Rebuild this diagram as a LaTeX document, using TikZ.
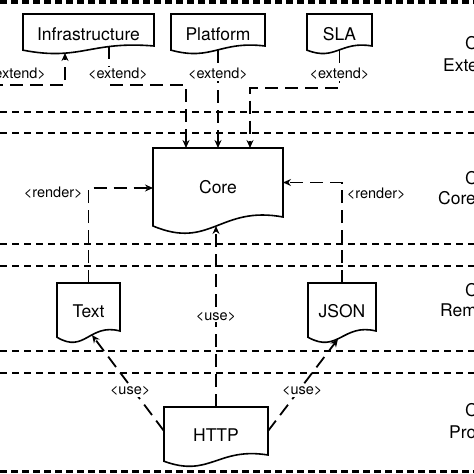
\documentclass[tikz,border=0pt]{standalone}
\usepackage{fontspec}
\setmainfont{TeX Gyre Heros}
\usepackage{tikz}
\usetikzlibrary{arrows.meta,shapes,positioning,calc}

% document outline with a wavy bottom edge
\newcommand{\moduleoutline}[1]{%
  \draw[line width=1.6pt] let \p1=(#1.south west), \p2=(#1.north east), \n1={\y2-\y1}, \n2={\x2-\x1} in
    (\x2,\y1) -- (\x2,\y2) -- (\x1,\y2) -- (\x1,\y1-0.13*\n1)
    .. controls (\x1+0.44*\n2,\y1-0.48*\n1) and (\x2-0.485*\n2,\y1+0.17*\n1) .. (\x2,\y1) -- cycle;}

\begin{document}
\begin{tikzpicture}[x=1pt, y=-1pt]
\tikzstyle{module}=[shape=rectangle, inner sep=0pt, outer sep=0pt, text height=21pt, text depth=0pt, font=\fontsize{17.5pt}{21pt}\selectfont]
\tikzstyle{layertext}=[anchor=west, inner sep=0pt, font=\fontsize{17.5pt}{21pt}\selectfont]
\tikzstyle{lbl}=[fill=white, inner sep=1pt, font=\fontsize{14.5pt}{16pt}\selectfont]
\tikzstyle{conn}=[line width=1.8pt, dash pattern=on 13pt off 7pt, -{Stealth[length=8pt, width=7pt]}]
\tikzstyle{layer}=[line width=1.3pt, dash pattern=on 7pt off 5pt]
\tikzstyle{border}=[line width=3.5pt, dash pattern=on 7pt off 4pt]
\useasboundingbox (0,0) rectangle (474,474);

\draw[border] (0,2) -- (474,2);
\draw[border] (0,471.5) -- (474,471.5);
\foreach \h in {112,133,244,266,351,373} \draw[layer] (0,\h) -- (474,\h);

\node[module, minimum width=94pt, minimum height=32pt] (1) at (218,30) {Platform};
\node[module, minimum width=131pt, minimum height=32pt] (0) [left=17pt of 1] {Infrastructure};
\node[module, minimum width=65pt, minimum height=32pt] (2) [right=42pt of 1] {SLA};
\node[module, minimum width=130pt, minimum height=69pt] (3) [below=102pt of 1] {Core};
\node[module, minimum width=63pt, minimum height=48pt] (4) [below left=66pt and 33pt of 3] {Text};
\node[module, minimum width=68pt, minimum height=48pt] (5) [below right=66pt and 25pt of 3] {JSON};
\node[module, minimum width=104pt, minimum height=48pt] (6) [below=190pt of 3, xshift=-2pt] {HTTP};
\foreach \k in {0,...,6} \moduleoutline{\k};

\node[layertext] (7) at (465,43) {C};
\node[layertext] (8) at (443,65) {Exte};
\node[layertext] (9) at (465,178) {C};
\node[layertext] (10) at (438,198) {Core};
\node[layertext] (11) at (465,290) {C};
\node[layertext] (12) at (440,310) {Rem};
\node[layertext] (13) at (465,410) {C};
\node[layertext] (14) at (449,432) {Pro};

\coordinate (x) at (-10,85);
\draw[conn] (x) -| node[lbl, pos=0.173, yshift=11pt] {<extend>} ([xshift=-23.5pt,yshift=-7pt]0.south);
\draw[conn] ([xshift=20.5pt]0.south) -- node[lbl, pos=.7, xshift=9pt] {<extend>} ++(0,39) -| ([xshift=-32pt]3.north);
\draw[conn] ([yshift=-4pt]1.south) -- node[lbl, pos=.245] {<extend>} (3.north);
\draw[conn] ([yshift=-4pt]2.south) -- node[lbl, pos=.63] {<extend>} ++(0,38) -| ([xshift=32pt]3.north);

\draw[conn] (4.north) |- node[lbl, pos=.5, anchor=east, xshift=-4pt, yshift=-5pt] {<render>} ([yshift=-5.5pt]3.west);
\draw[conn] (5.north) |- node[lbl, pos=.5, anchor=west, xshift=3pt, yshift=-11pt] {<render>} (3.east);

\draw[conn] (6.north) -- node[lbl] {<use>} ([xshift=-2pt,yshift=-9pt]3.south);
\draw[conn] (6.west) -- node[lbl, pos=.47, yshift=-5pt] {<use>} ([xshift=3.5pt,yshift=-4pt]4.south);
\draw[conn] (6.east) -- node[lbl, pos=.49, yshift=-5pt] {<use>} ([xshift=-4pt,yshift=-8pt]5.south);

\end{tikzpicture}
\end{document}
